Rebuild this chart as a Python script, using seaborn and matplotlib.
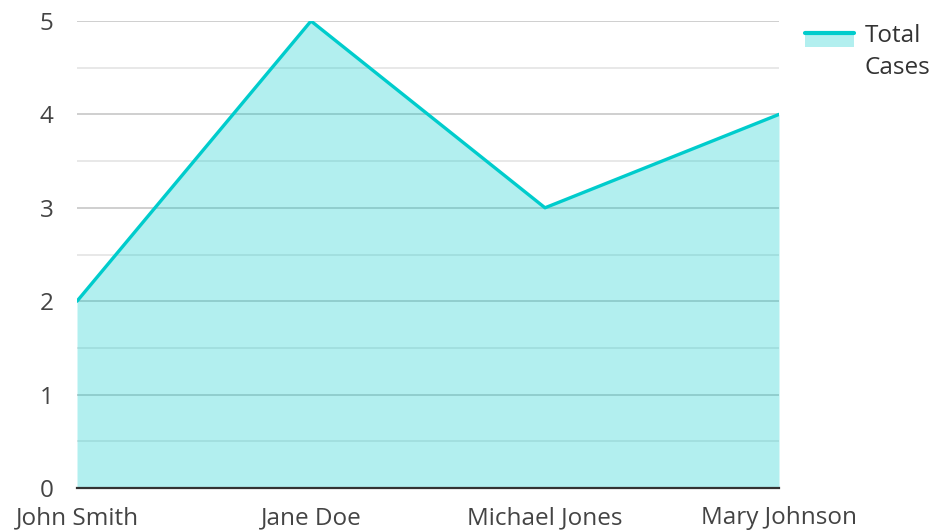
import matplotlib
matplotlib.use("Agg")
import matplotlib.pyplot as plt
import seaborn as sns
import pandas as pd
from matplotlib.patches import Rectangle
from matplotlib.lines import Line2D
from matplotlib.legend_handler import HandlerBase

categories = ["John Smith", "Jane Doe", "Michael Jones", "Mary Johnson"]
total_cases = [2, 5, 3, 4]
y_ticks = [0, 1, 2, 3, 4, 5]
series_name = "Total\nCases"

LINE = "#00cccc"
FS = 17.5

sns.set_theme(style="white")
plt.rcParams["font.family"] = ["Open Sans", "DejaVu Sans"]

df = pd.DataFrame({"pos": range(len(categories)), "name": categories, "value": total_cases})

fig = plt.figure(figsize=(9.33, 5.31), dpi=100)
ax = fig.add_axes([77 / 933, 1 - 488 / 531, (779 - 77) / 933, (488 - 21) / 531])

sns.lineplot(data=df, x="pos", y="value", ax=ax, color=LINE, linewidth=2.4, zorder=3)
ax.fill_between(df["pos"], df["value"], 0, color=LINE, alpha=0.3, linewidth=0, zorder=2)

ax.set_xlim(0, len(categories) - 1)
ax.set_ylim(0, 5)
ax.set_xticks(df["pos"])
ax.set_xticklabels(categories)
ax.set_yticks(y_ticks)
ax.set_yticks([0.5, 1.5, 2.5, 3.5, 4.5], minor=True)
ax.set_axisbelow(True)
ax.grid(True, which="major", axis="y", color="#cccccc", linewidth=1.3)
ax.grid(True, which="minor", axis="y", color="#e6e6e6", linewidth=1.3)
ax.set_xlabel("")
ax.set_ylabel("")
for s in ["left", "right", "top"]:
    ax.spines[s].set_visible(False)
ax.spines["bottom"].set_color("#333333")
ax.spines["bottom"].set_linewidth(1.6)
ax.spines["bottom"].set_zorder(4)
ax.tick_params(axis="both", which="both", length=0, labelsize=FS, colors="#444444")
ax.tick_params(axis="y", pad=17)
ax.tick_params(axis="x", pad=13)


class AreaHandler(HandlerBase):
    def create_artists(self, legend, orig_handle, xdescent, ydescent, width, height, fontsize, trans):
        shift = 9.4
        y0 = -ydescent + shift
        r = Rectangle((-xdescent, y0), width, height, facecolor=LINE, alpha=0.3,
                      edgecolor="none", transform=trans)
        ln = Line2D([-xdescent, -xdescent + width], [y0 + height - 1.2, y0 + height - 1.2],
                    color=LINE, linewidth=3, transform=trans)
        return [r, ln]


handle = Rectangle((0, 0), 1, 1)
leg = fig.legend([handle], [series_name], handler_map={Rectangle: AreaHandler()},
                 loc="upper left", bbox_to_anchor=(788 / 933, 1 - 7 / 531),
                 frameon=False, fontsize=FS, handlelength=2.0, handleheight=0.62,
                 handletextpad=0.45, labelcolor="#333333", borderpad=0.2)
for t in leg.get_texts():
    t.set_linespacing(1.45)

fig.savefig("out.png", dpi=100)
